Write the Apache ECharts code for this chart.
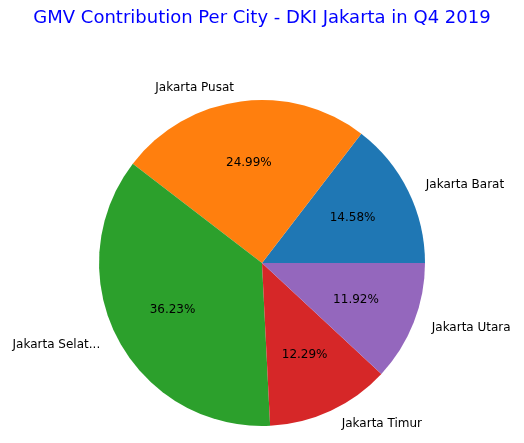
<!DOCTYPE html>
<html>
<head>
<meta charset="utf-8">
<script src="https://cdn.jsdelivr.net/npm/echarts@6/dist/echarts.min.js"></script>
<style>html,body{margin:0;padding:0;background:#fff}#chart{width:524px;height:443px}</style>
</head>
<body>
<div id="chart"></div>
<script>
var cities = ['Jakarta Barat', 'Jakarta Pusat', 'Jakarta Selatan', 'Jakarta Timur', 'Jakarta Utara'];
var shares = [14.58, 24.99, 36.23, 12.29, 11.92];
var colors = ['#1f77b4', '#ff7f0e', '#2ca02c', '#d62728', '#9467bd'];

var chart = echarts.init(document.getElementById('chart'));

var data = cities.map(function (c, i) {
    return { name: c, value: shares[i], itemStyle: { color: colors[i] } };
});

var option = {
    animation: false,
    title: {
        text: 'GMV Contribution Per City - DKI Jakarta in Q4 2019',
        left: 'center',
        top: 4,
        textStyle: { color: '#0000ff', fontFamily: 'DejaVu Sans', fontSize: 18, fontWeight: 'normal' }
    },
    series: [{
        type: 'pie',
        center: [262, 263],
        radius: 163,
        startAngle: 0,
        clockwise: false,
        data: data,
        label: {
            position: 'outside',
            color: '#000',
            fontFamily: 'DejaVu Sans',
            fontSize: 12,
            formatter: '{b}'
        },
        labelLine: { show: false, length: 14, length2: 0 },
        emphasis: { disabled: true }
    }, {
        type: 'pie',
        center: [262, 263],
        radius: [33, 163],
        startAngle: 0,
        clockwise: false,
        silent: true,
        data: data.map(function (d) { return { name: d.name, value: d.value, itemStyle: { color: 'transparent' } }; }),
        label: {
            position: 'inside',
            color: '#000',
            fontFamily: 'DejaVu Sans',
            fontSize: 12,
            formatter: function (p) { return p.value.toFixed(2) + '%'; }
        },
        labelLine: { show: false }
    }]
};

chart.setOption(option);
</script>
</body>
</html>
